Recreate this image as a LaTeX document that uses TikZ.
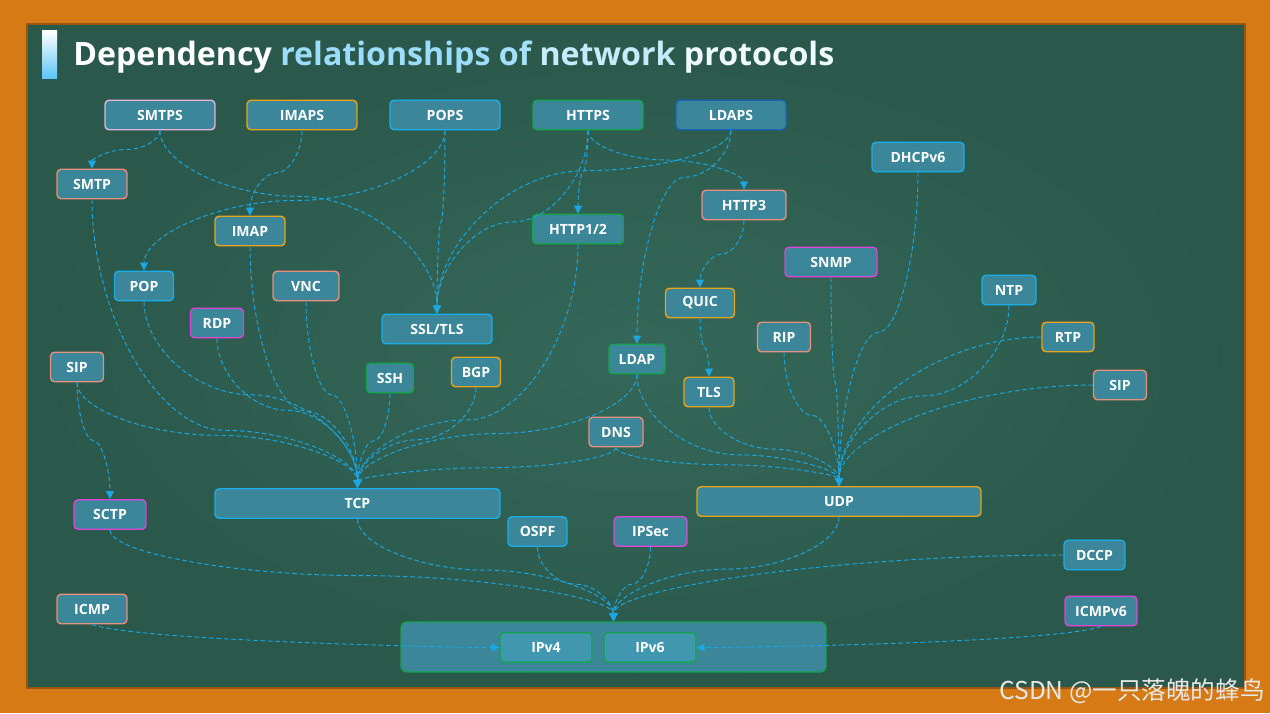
\documentclass[tikz,border=0pt]{standalone}
\usepackage{fontspec}
\setmainfont{Open Sans}
\newfontfamily\cjk{Noto Sans CJK SC}
\usepackage{tikz}
\usetikzlibrary{arrows.meta,calc}
\definecolor{wood}{HTML}{D57A14}
\definecolor{wooddark}{HTML}{9A560E}
\definecolor{board}{HTML}{2A584A}
\definecolor{boardlight}{HTML}{35685A}
\definecolor{boxfill}{HTML}{3B8698}
\definecolor{ipfill}{HTML}{4196B0}
\definecolor{linkcyan}{HTML}{1AA7E3}
\definecolor{titleblue}{HTML}{5AC6F8}
\definecolor{edgepink}{HTML}{E3B5DA}
\definecolor{edgeorange}{HTML}{E8A31C}
\definecolor{edgecyan}{HTML}{19AEE8}
\definecolor{edgegreen}{HTML}{13A54A}
\definecolor{edgeblue}{HTML}{1565C0}
\definecolor{edgesalmon}{HTML}{E8907E}
\definecolor{edgemagenta}{HTML}{DD45D8}
\tikzset{
  pr/.style={rounded corners=2.3pt, line width=0.8pt, fill=boxfill, text=white, inner sep=0pt,
             font=\bfseries\fontsize{8}{9}\selectfont, minimum height=0.59cm},
  pr pink/.style={pr, draw=edgepink},
  pr orange/.style={pr, draw=edgeorange},
  pr cyan/.style={pr, draw=edgecyan},
  pr green/.style={pr, draw=edgegreen},
  pr blue/.style={pr, draw=edgeblue},
  pr salmon/.style={pr, draw=edgesalmon},
  pr magenta/.style={pr, draw=edgemagenta},
  pr arr/.style={-{Triangle[length=4.5pt,width=4.5pt]}, linkcyan, line width=0.55pt, dash pattern=on 2.6pt off 1.6pt},
  % S-shaped connector, flat where it crosses the middle; #1 = where that happens (0..1 of the drop)
  cbend/.style={to path={let \p1=(\tikztostart), \p2=(\tikztotarget), \n1={#1*(\y2-\y1)} in
                (\p1) .. controls (\x1,{\y1+0.5*(\n1)}) and ({0.75*\x1+0.25*\x2},{\y1+(\n1)})
                .. ({0.5*(\x1+\x2)},{\y1+(\n1)})
                .. controls ({0.25*\x1+0.75*\x2},{\y1+(\n1)}) and (\x2,{0.5*(\y1+\y2)+0.5*(\n1)}) .. (\p2)}},
  cbend/.default=0.5,
  hbend/.style={to path={let \p1=(\tikztostart), \p2=(\tikztotarget) in
                (\p1) .. controls ({0.5*(\x1+\x2)},\y1) and (\x2,{0.5*(\y1+\y2)}) .. (\p2)}},
}
\begin{document}
\begin{tikzpicture}[x=0.02cm, y=0.02cm]
  \useasboundingbox (0,0) rectangle (1270,-713);
  % chalkboard and frame
  \fill[wood] (0,0) rectangle (1270,-713);
  \shade[inner color=boardlight, outer color=board] (27,-24) rectangle (1245,-688);
  \draw[wooddark, line width=1.5pt] (27,-24) rectangle (1245,-688);
  \shade[top color=white, bottom color=titleblue] (42,-31) rectangle (57,-79);
  \node[anchor=base west, inner sep=0pt, font=\bfseries\fontsize{18.3}{21}\selectfont] (title) at (73,-66)
    {\textcolor{white}{Dependency} \textcolor{white!40!titleblue}{relationships} \textcolor{white!45!titleblue}{of}
     \textcolor{white!65!titleblue}{network} \textcolor{white!90!titleblue}{protocols}};
  \node[anchor=base east, inner sep=0pt, text=white!82!gray, font=\cjk\fontsize{14}{16}\selectfont] (mark) at (1265,-699)
    {CSDN @一只落魄的蜂鸟};
  % secure application protocols
  \node[pr pink, minimum width=2.2cm] (smtps) at (160,-115) {SMTPS};
  \node[pr orange, minimum width=2.2cm] (imaps) at (302,-115) {IMAPS};
  \node[pr cyan, minimum width=2.2cm] (pops) at (445,-115) {POPS};
  \node[pr green, minimum width=2.2cm] (https) at (588,-115) {HTTPS};
  \node[pr blue, minimum width=2.2cm] (ldaps) at (731,-115) {LDAPS};
  % application protocols
  \node[pr salmon, minimum width=1.4cm] (smtp) at (92,-184) {SMTP};
  \node[pr orange, minimum width=1.4cm] (imap) at (250,-231) {IMAP};
  \node[pr green, minimum width=1.82cm] (http12) at (578,-229) {HTTP1/2};
  \node[pr salmon, minimum width=1.68cm] (http3) at (744,-205) {HTTP3};
  \node[pr cyan, minimum width=1.84cm] (dhcp6) at (918,-157) {DHCPv6};
  \node[pr cyan, minimum width=1.18cm] (pop) at (144,-286) {POP};
  \node[pr salmon, minimum width=1.32cm] (vnc) at (306,-286) {VNC};
  \node[pr magenta, minimum width=1.06cm] (rdp) at (217,-323) {RDP};
  \node[pr cyan, minimum width=2.2cm] (ssl) at (437,-329) {SSL/TLS};
  \node[pr magenta, minimum width=1.84cm] (snmp) at (831,-262) {SNMP};
  \node[pr cyan, minimum width=1.08cm] (ntp) at (1009,-290) {NTP};
  \node[pr orange, minimum width=1.38cm] (quic) at (700,-303) {QUIC};
  \node[pr salmon, minimum width=1.06cm] (rip) at (784,-337) {RIP};
  \node[pr orange, minimum width=1.04cm] (rtp) at (1068,-337) {RTP};
  \node[pr green, minimum width=1.12cm] (ldap) at (637,-359) {LDAP};
  \node[pr green, minimum width=0.94cm] (ssh) at (390,-378) {SSH};
  \node[pr orange, minimum width=0.98cm] (bgp) at (476,-372) {BGP};
  \node[pr salmon, minimum width=1.06cm] (sipl) at (77,-367) {SIP};
  \node[pr orange, minimum width=1.0cm] (tls) at (709,-392) {TLS};
  \node[pr salmon, minimum width=1.06cm] (sipr) at (1120,-385) {SIP};
  \node[pr salmon, minimum width=1.08cm] (dns) at (616,-432) {DNS};
  % transport protocols
  \node[pr cyan, minimum width=5.7cm] (tcp) at (357.5,-503.5) {TCP};
  \node[pr orange, minimum width=5.68cm] (udp) at (839,-501.5) {UDP};
  \node[pr magenta, minimum width=1.44cm] (sctp) at (110,-514.5) {SCTP};
  \node[pr cyan, minimum width=1.22cm] (dccp) at (1094.5,-555) {DCCP};
  % network protocols
  \node[pr cyan, minimum width=1.18cm] (ospf) at (537.5,-531.5) {OSPF};
  \node[pr magenta, minimum width=1.46cm] (ipsec) at (650.5,-531.5) {IPSec};
  \node[pr salmon, minimum width=1.4cm] (icmp) at (92,-609) {ICMP};
  \node[pr magenta, minimum width=1.44cm] (icmp6) at (1101,-611) {ICMPv6};
  \node[pr green, minimum width=8.5cm, minimum height=1.0cm, rounded corners=3.5pt] (ipg) at (613.5,-647) {};
  \node[pr green, fill=ipfill, minimum width=1.84cm] (ipv4) at (546,-647.5) {IPv4};
  \node[pr green, fill=ipfill, minimum width=1.84cm] (ipv6) at (650,-647.5) {IPv6};
  % dependencies
  \draw[pr arr] (smtps.south) to[cbend] (smtp.north);
  \draw[pr arr] (imaps.south) to[cbend] (imap.north);
  \draw[pr arr] (pops.south) to[cbend] (pop.north);
  \draw[pr arr] (https.south) to[cbend] (http12.north);
  \draw[pr arr] (https.south) to[cbend] (http3.north);
  \draw[pr arr] (ldaps.south) to[cbend=0.22] (ldap.north);
  \foreach \s/\a in {smtps/0.36, pops/0.5, https/0.5, ldaps/0.22} \draw[pr arr] (\s.south) to[cbend=\a] (ssl.north);
  \draw[pr arr] (http3.south) to[cbend] (quic.north);
  \draw[pr arr] (quic.south) to[cbend] (tls.north);
  \draw[pr arr] (sipl.south) to[cbend] (sctp.north);
  \foreach \s/\a in {smtp/0.8, pop/0.5, rdp/0.48, imap/0.68, vnc/0.5, sipl/0.5, ssh/0.5, bgp/0.52, http12/0.72, ldap/0.52, dns/0.5}
    \draw[pr arr] (\s.south) to[cbend=\a] (tcp.north);
  \foreach \s/\a in {ldap/0.72, dns/0.45, tls/0.53, rip/0.47, snmp/0.5, dhcp6/0.51, ntp/0.5}
    \draw[pr arr] (\s.south) to[cbend=\a] (udp.north);
  \foreach \s in {rtp,sipr} \draw[pr arr] (\s.west) to[hbend] (udp.north);
  \foreach \s in {sctp,tcp,ospf,ipsec,udp} \draw[pr arr] (\s.south) to[cbend] (ipg.north);
  \draw[pr arr] (dccp.west) to[hbend] (ipg.north);
  \draw[pr arr] (icmp.south) to[out=-20, in=180, looseness=0.3] (ipv4.west);
  \draw[pr arr] (icmp6.south) to[out=-160, in=0, looseness=0.3] (ipv6.east);
\end{tikzpicture}
\end{document}
